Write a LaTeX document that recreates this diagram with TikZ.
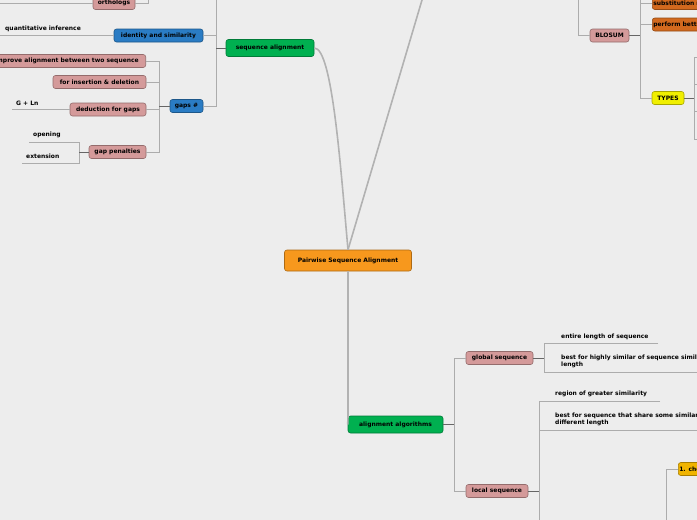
\documentclass[tikz,border=0pt]{standalone}
\usepackage{fontspec}
\setmainfont{DejaVu Sans}
\begin{document}
\begin{tikzpicture}[x=1pt,y=-1pt,
  every node/.style={font=\fontsize{6}{7}\selectfont\bfseries},
  box/.style={draw=#1!70!black,fill=#1,rounded corners=2.5pt,minimum height=13pt,inner sep=1pt,line width=0.6pt},
  ln/.style={draw=gray!65,line width=0.7pt},
  dk/.style={draw=gray!120,line width=0.8pt},
  lbl/.style={anchor=west,inner sep=0pt,align=left}]
\definecolor{bg}{HTML}{EDEDED}
\definecolor{pink}{HTML}{D49A9A}
\definecolor{blu}{HTML}{2A7CC4}
\definecolor{grn}{HTML}{00B050}
\definecolor{org}{HTML}{F7981D}
\definecolor{brn}{HTML}{D2691E}
\definecolor{yel}{HTML}{F0EF00}
\definecolor{gold}{HTML}{F0B400}
\fill[bg] (0,0) rectangle (697,520);
\useasboundingbox (0,0) rectangle (697,520);
\clip (0,0) rectangle (697,520);
% central
\node[box=org,minimum width=127pt,minimum height=21pt] (c) at (348,260.5) {Pairwise Sequence Alignment};
\node[box=grn,minimum width=88pt,minimum height=17pt] (sa) at (270,48) {sequence alignment};
\node[box=grn,minimum width=95pt,minimum height=17pt] (aa) at (395.5,424.5) {alignment algorithms};
\coordinate (tr) at (422,0);
\draw[draw=gray!60,line width=1.6pt] (c.north) .. controls (340,160) and (332,48) .. (sa.east);
\draw[draw=gray!60,line width=1.6pt] (c.north) -- (tr);
\draw[draw=gray!60,line width=1.6pt] (c.south) -- (348,416) -- (aa.west);
% left branch
\node[box=pink,minimum width=42pt] (orth) at (114,3) {orthologs};
\node[box=blu,minimum width=89pt] (ids) at (158.5,35.5) {identity and similarity};
\node[box=blu,minimum width=33pt] (gaps) at (186.5,106) {gaps \#};
\node[box=pink,anchor=east,minimum width=158pt] (imp) at (146,61) {improve alignment between two sequence};
\node[box=pink,minimum width=93pt] (ins) at (99.5,82) {for insertion \& deletion};
\node[box=pink,minimum width=76pt] (ded) at (108,109.5) {deduction for gaps};
\node[box=pink,minimum width=57pt] (gp) at (117.5,152) {gap penalties};
\coordinate (v1t) at (216,0);
\draw[ln] (v1t) -- (216,106) -- (gaps.east);
\draw[ln] (ids.east) -- (216,35.5);
\draw[dk] (216,48) -- (sa.west);
\draw[ln] (orth.east) -- (148,3) -- (148,0);
\draw[ln] (orth.west) -- (0,3);
\node[lbl] (qi) at (5,29) {quantitative inference};
\draw[ln] (ids.west) -- (0,35.5);
\draw[ln] (imp.east) -- (159,61) -- (159,152) -- (gp.east);
\draw[ln] (ins.east) -- (159,82);
\draw[ln] (ded.east) -- (159,109.5);
\draw[dk] (159,106) -- (gaps.west);
\node[lbl] (gl) at (16,103) {G + Ln};
\draw[ln] (ded.west) -- (12,109.5);
\node[lbl] (op) at (33,135) {opening};
\node[lbl] (ex) at (26,156) {extension};
\draw[ln] (29,142) -- (79,142) -- (79,163) -- (22,163);
\draw[dk] (79,152) -- (gp.west);
% top right
\node[box=pink,minimum width=39pt] (bl) at (609.5,35.5) {BLOSUM};
\node[box=brn,anchor=west] (sub) at (652,3) {substitution matrix};
\node[box=brn,anchor=west] (pb) at (652,24.5) {perform better};
\node[box=yel,minimum width=32pt] (ty) at (668,98) {TYPES};
\draw[ln] (578,0) -- (578,35.5) -- (bl.west);
\draw[ln] (640,0) -- (640,98) -- (ty.west);
\draw[dk] (bl.east) -- (640,35.5);
\draw[ln] (640,24.5) -- (pb.west);
\draw[ln] (640,3) -- (sub.west);
\draw[dk] (ty.east) -- (694,98);
\draw[ln] (697,57) -- (694,57) -- (694,139) -- (697,139);
\draw[ln] (694,84) -- (697,84);
\draw[ln] (694,111) -- (697,111);
% bottom right
\node[box=pink,minimum width=67pt] (gs) at (499.5,358) {global sequence};
\node[box=pink,minimum width=62pt] (ls) at (497,491) {local sequence};
\draw[ln] (gs.west) -- (454,358) -- (454,491) -- (ls.west);
\draw[dk] (aa.east) -- (454,424.5);
\draw[dk] (gs.east) -- (544,358);
\draw[ln] (658,343) -- (544,343) -- (544,372) -- (697,372);
\node[lbl] (el) at (561,337) {entire length of sequence};
\node[lbl] (bh) at (561,361) {best for highly similar of sequence similar\\length};
\draw[dk] (ls.east) -- (539,491);
\draw[ln] (660,401) -- (539,401) -- (539,520);
\draw[ln] (539,430) -- (697,430);
\node[lbl] (rg) at (555,394) {region of greater similarity};
\node[lbl] (bs) at (555,419) {best for sequence that share some similarity\\different length};
\node[box=gold,anchor=west] (ch) at (678,469) {1. choose};
\draw[ln] (ch.west) -- (666,469) -- (666,520);
\end{tikzpicture}
\end{document}
